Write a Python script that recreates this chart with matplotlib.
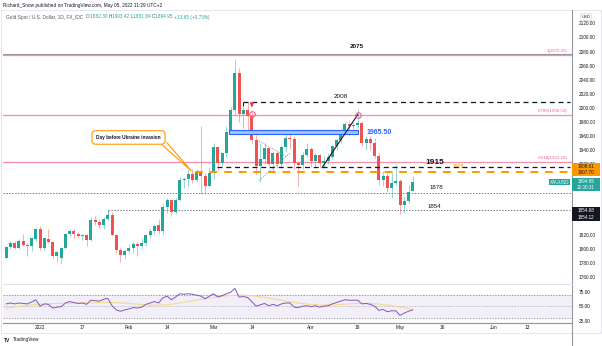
import numpy as np
import pandas as pd
import matplotlib
matplotlib.use("Agg")
import matplotlib.pyplot as plt
from matplotlib.patches import Rectangle
from matplotlib.lines import Line2D
from matplotlib.ticker import FormatStrFormatter, FuncFormatter

# XAUUSD daily candles, weekdays from 22 Dec 2021 to 5 May 2022
dates = pd.bdate_range('2021-12-22', '2022-05-05')

opens = [1788, 1803, 1809, 1802, 1812, 1806, 1805, 1814,
         1829, 1801, 1814, 1810, 1790, 1788, 1802, 1822, 1826, 1821, 1818, 1820, 1813, 1841, 1839, 1834, 1843, 1848, 1820, 1798, 1792,
         1797, 1801, 1807, 1805, 1808, 1820, 1826, 1834, 1826, 1859, 1870, 1853, 1870, 1898, 1900, 1906, 1898, 1910, 1904, 1889,
         1908, 1944, 1922, 1936, 1966, 1997, 2050, 1991, 1997, 1989, 1955, 1918, 1928, 1943, 1921, 1936, 1921, 1944, 1958, 1956, 1922, 1919, 1933,
         1942, 1925, 1933, 1922, 1925, 1931, 1946, 1954, 1966, 1977, 1974, 1976, 1979, 1950, 1956, 1951, 1932, 1898, 1904, 1886, 1894,
         1897, 1863, 1868, 1882.30]
highs = [1805, 1812, 1811, 1814, 1821, 1808, 1817, 1830,
         1832, 1816, 1829, 1812, 1798, 1803, 1823, 1828, 1829, 1824, 1822, 1822, 1845, 1847, 1842, 1845, 1855, 1852, 1822, 1802, 1800,
         1807, 1810, 1810, 1815, 1822, 1830, 1836, 1842, 1864, 1873, 1871, 1872, 1902, 1902, 1913, 1914, 1914, 1974, 1908, 1916,
         1950, 1945, 1937, 1975, 2002, 2070, 2056, 2001, 2009, 1995, 1962, 1950, 1950, 1945, 1939, 1939, 1948, 1966, 1966, 1960, 1925, 1937, 1950,
         1944, 1936, 1935, 1932, 1936, 1948, 1958, 1970, 1980, 1982, 1980, 1998, 1981, 1960, 1960, 1958, 1936, 1911, 1908, 1909, 1920,
         1899, 1874, 1891, 1903.42]
lows = [1786, 1800, 1800, 1800, 1804, 1790, 1797, 1812,
        1799, 1799, 1808, 1788, 1782, 1779, 1800, 1818, 1815, 1815, 1813, 1805, 1811, 1834, 1830, 1829, 1840, 1818, 1795, 1781, 1786,
        1793, 1795, 1790, 1800, 1805, 1815, 1822, 1822, 1821, 1851, 1848, 1850, 1868, 1887, 1890, 1893, 1895, 1878, 1879, 1888,
        1900, 1912, 1918, 1930, 1964, 1990, 1980, 1972, 1966, 1949, 1906, 1895, 1920, 1915, 1908, 1915, 1915, 1938, 1942, 1914, 1890, 1914, 1930,
        1916, 1915, 1916, 1915, 1920, 1928, 1940, 1950, 1962, 1960, 1970, 1972, 1946, 1940, 1941, 1929, 1891, 1890, 1881, 1872, 1889,
        1850, 1851, 1865, 1881.84]
closes = [1803, 1809, 1802, 1812, 1806, 1805, 1815, 1829,
          1801, 1815, 1810, 1790, 1796, 1802, 1822, 1826, 1821, 1818, 1820, 1813, 1841, 1839, 1834, 1843, 1848, 1820, 1798, 1792, 1797,
          1801, 1807, 1805, 1808, 1820, 1826, 1832, 1826, 1859, 1870, 1853, 1870, 1898, 1900, 1906, 1898, 1910, 1904, 1889, 1908,
          1944, 1922, 1936, 1966, 1997, 2050, 1991, 1997, 1989, 1955, 1918, 1928, 1943, 1921, 1936, 1921, 1944, 1958, 1956, 1922, 1919, 1933, 1942,
          1925, 1933, 1922, 1925, 1931, 1946, 1954, 1966, 1977, 1974, 1976, 1979, 1950, 1956, 1951, 1932, 1898, 1904, 1886, 1894, 1897,
          1863, 1868, 1881.30, 1894.95]

rsi = [54, 55.6, 54, 55.6, 54.8, 54, 57.2, 61.2,
       50, 54, 53.2, 46.8, 48.4, 49.2, 55.6, 58, 56.4, 54.8, 55.6, 53.2, 60.4, 59.6, 58.8, 62, 63.6, 50.8, 43.6, 41.2, 43.6,
       45.2, 47.6, 46.8, 48.4, 53.2, 55.6, 58, 55.6, 64.4, 67.6, 61.2, 66, 71.6, 70.8, 71.6, 70.8, 69.2, 67.6, 62.8, 67.6,
       71.6, 66, 68.4, 71.6, 74, 81, 66, 66.8, 65.2, 58, 50, 52.4, 54.8, 50.8, 53.2, 50.8, 54, 55.6, 55.6, 48.4, 47.6, 50, 50.8,
       49.2, 50.8, 48.4, 50, 50.8, 54, 56.4, 58.8, 61.2, 60.4, 60.4, 60.4, 54, 54.8, 53.2, 50, 42.8, 44.4, 40.4, 42, 42,
       34, 38, 41.2, 43.6]
rsi_ma = [46.5, 47.5, 48.5, 49.5, 50.5, 51.5, 52.5, 53,
          53.5, 54, 54.3, 54.5, 54.7, 54.9, 55, 55.2, 55.4, 55.6, 55.8, 56, 56, 56.2, 56.4, 56.5, 56.6, 56.5, 56.2, 55.8, 55.3,
          54.8, 54.2, 53.6, 53, 52.5, 52.2, 52, 52, 52.3, 52.8, 53.5, 54.5, 55.5, 56.8, 58, 59.3, 60.6, 61.8, 63, 64.2,
          65.3, 66.3, 67.2, 68, 68.7, 69.2, 69.3, 69.2, 68.8, 68.2, 67.3, 66.3, 65.2, 64, 62.8, 61.5, 60.3, 59, 57.8, 56.6, 55.5, 54.6, 53.8,
          53.2, 52.7, 52.4, 52.2, 52.2, 52.4, 52.7, 53.1, 53.5, 54, 54.4, 54.7, 54.9, 55, 54.8, 54.4, 53.8, 53, 52, 50.8, 49.6,
          48.3, 47, 45.7, 44.5]

tick_dates = ['2022-01-03', '2022-01-17', '2022-02-01', '2022-02-14', '2022-03-01', '2022-03-14',
              '2022-04-01', '2022-04-18', '2022-05-02', '2022-05-16', '2022-06-01', '2022-06-13']
tick_labels = ['2022', '17', 'Feb', '14', 'Mar', '14', 'Apr', '18', 'May', '16', 'Jun', '13']

fib_levels = [2075.25, 1990.53, 1923.24]
fib_names = ['1', '0.786', '0.618']
lvl_2008, lvl_1915, lvl_1908, lvl_1878, lvl_1854 = 2008, 1916.5, 1908.6, 1879.5, 1855
zone = (1962.5, 1968.6)
hidden_ticks = [1900, 1880, 1860, 1840]  # covered by the price tags

W, H = 602, 346
UP, DOWN = '#26a69a', '#ef5350'
INK = '#131722'
plt.rcParams['font.family'] = ['Liberation Sans', 'DejaVu Sans']

fig = plt.figure(figsize=(W / 100, H / 100), dpi=100)


def box(x0, y0, x1, y1):
    return [x0 / W, 1 - y1 / H, (x1 - x0) / W, (y1 - y0) / H]


def fline(x0, y0, x1, y1, **kw):
    fig.add_artist(Line2D([x0 / W, x1 / W], [1 - y0 / H, 1 - y1 / H], transform=fig.transFigure, **kw))


ax = fig.add_axes(box(3, 10, 572, 283))
ax2 = fig.add_axes(box(3, 285, 572, 322))

days = pd.bdate_range('2021-12-22', '2022-06-30')


def xi(d):
    return days.get_loc(pd.Timestamp(d))


x = np.array([xi(d) for d in dates])
o, h, l, c = map(np.array, (opens, highs, lows, closes))
col = np.where(c >= o, UP, DOWN)
X0, X1 = -0.74, 133.6

ax.vlines(x, l, h, colors=col, lw=0.6, alpha=0.55, zorder=2)
ax.bar(x, np.maximum(np.abs(c - o), 0.8), bottom=np.minimum(o, c), width=0.7, color=col, zorder=3)

# fib levels
ax.axhline(fib_levels[0] + 1.2, color='#9598a1', lw=0.8, zorder=1)
for lv, nm in zip(fib_levels, fib_names):
    ax.axhline(lv, color='#f48fb1', lw=0.9, zorder=1)
    ax.text(X1 - 1, lv + 2.5, '%s(%.2f)' % (nm, lv), color='#f06292', fontsize=3.2, ha='right', va='bottom')

xe = X1 - 0.5
ax.hlines(lvl_2008, xi('2022-03-10') - 0.1, xe, color=INK, lw=0.9, ls=(0, (4, 3)), zorder=4)
ax.vlines(xi('2022-03-10') - 0.1, lvl_2008 - 5, lvl_2008, color=INK, lw=0.7, zorder=4)
ax.hlines(lvl_1915, xi('2022-03-02') - 0.2, xe, color=INK, lw=0.9, ls=(0, (4, 3)), zorder=4)
ax.hlines(lvl_1908, xi('2022-02-23') - 0.4, xe, color='#ff9800', lw=1.4, ls=(0, (4, 3.5)), zorder=4)
ax.axhline(lvl_1878, color='#787b86', lw=0.7, ls=(0, (1.5, 1.5)), zorder=1)
ax.hlines(lvl_1854, xi('2022-01-25'), xe, color='#787b86', lw=0.7, ls=(0, (1.5, 1.5)), zorder=1)
ax.vlines(xi('2022-01-25'), 1848, lvl_1854, color='#787b86', lw=0.7, ls=(0, (1.5, 1.5)), zorder=1)

ax.text(82.9, 2087.8, '2075', fontsize=4.6, weight='bold', color=INK, ha='center', va='center')
ax.text(79.1, 2015.6, '2008', fontsize=4.6, color=INK, ha='center', va='center')
ax.text(101.3, 1922.5, '1915', fontsize=6, weight='bold', color=INK, ha='center', va='center')
ax.text(106.7, 1916.4, '1908', fontsize=3.6, color='#ff9800', ha='center', va='center')
ax.text(101.5, 1886.6, '1878', fontsize=4.4, color=INK, ha='center', va='center')
ax.text(101, 1859.7, '1854', fontsize=4.4, color=INK, ha='center', va='center')

# resistance zone
zx0, zx1 = xi('2022-03-07') - 0.4, xi('2022-04-18')
ax.add_patch(Rectangle((zx0, zone[0]), zx1 - zx0, zone[1] - zone[0], fc='#9fc3fa', ec='#2962ff', lw=0.8, zorder=5))
ax.text(zx1 + 2.1, 1965, '1965.50', fontsize=5, weight='bold', color='#2962ff', va='center')

# trend line and markers
ax.plot([xi('2022-04-06') - 0.4, xi('2022-04-18')], [1915.5, 1990.5], color=INK, lw=0.8, zorder=6)
ax.plot([xi('2022-04-18'), xi('2022-03-14')], [1990.5, 1992], 'o', ms=4, mfc='none', mec='#f06292', mew=0.8, zorder=7)
ax.annotate('', xy=(xi('2022-03-14'), 1997), xytext=(xi('2022-03-14'), 2009),
            arrowprops=dict(arrowstyle='-|>', color='#f23645', lw=1, mutation_scale=5), zorder=7)
ax.plot([xi('2022-03-16') - 0.3, xi('2022-03-24') + 0.3], [1953, 1931], color='#9598a1', lw=0.6, ls=(0, (1.5, 1.5)), zorder=4)
ax.plot([xi('2022-03-16') - 0.3, xi('2022-03-25')], [1897, 1936], color='#9598a1', lw=0.6, ls=(0, (1.5, 1.5)), zorder=4)

# callout
tip = (xi('2022-02-22') - 0.3, 1911)
ax.plot([36.3, tip[0], 38.0], [1950.5, tip[1], 1950.5], color='#ff9800', lw=0.8, zorder=6)
ax.text(28.9, 1958.2, 'Day before Ukraine invasion', fontsize=3.4, weight='bold', color=INK, ha='center', va='center',
        zorder=7, bbox=dict(boxstyle='round,pad=0.9,rounding_size=0.8', fc='white', ec='#ff9800', lw=0.8))

ax.set_xlim(X0, X1)
ax.set_ylim(1751.9, 2138.9)
ax.yaxis.tick_right()
ax.set_yticks(np.arange(1760, 2121, 20))
ax.yaxis.set_major_formatter(FuncFormatter(lambda v, p: '' if round(v) in hidden_ticks else '%.2f' % v))
ax.tick_params(axis='y', length=0, pad=5, labelsize=3.4, labelcolor=INK)
ax.tick_params(axis='x', bottom=False, labelbottom=False)
for s in ax.spines.values():
    s.set_visible(False)

# RSI pane
ax2.fill_between([X0, X1], 30, 70, color='#7e57c2', alpha=0.09, lw=0)
for lv, a in ((70, 1), (50, 0.6), (30, 1)):
    ax2.axhline(lv, color='#787b86', lw=0.5, ls=(0, (2, 2)), alpha=a)
ax2.plot(x, rsi_ma, color='#f5d98e', lw=0.8)
ax2.plot(x, rsi, color='#7e57c2', lw=0.7)
ax2.set_xlim(X0, X1)
ax2.set_ylim(22.5, 86.9)
ax2.yaxis.tick_right()
ax2.set_yticks([25, 50, 75])
ax2.yaxis.set_major_formatter(FormatStrFormatter('%.2f'))
ax2.set_xticks([xi(d) for d in tick_dates])
ax2.set_xticklabels(tick_labels)
ax2.tick_params(axis='y', length=0, pad=5, labelsize=3.4, labelcolor=INK)
ax2.tick_params(axis='x', length=0, pad=2, labelsize=3.4, labelcolor=INK)
for s in ax2.spines.values():
    s.set_visible(False)

# frame and separators
fig.add_artist(Rectangle((1 / W, 1 - 333 / H), 600 / W, 323 / H, transform=fig.transFigure,
                         fc='none', ec='#e0e3eb', lw=0.6))
fline(572, 10, 572, 346, color='#9598a1', lw=0.8)
fline(3, 284, 572, 284, color='#e0e3eb', lw=0.8)
fline(3, 322.5, 572, 322.5, color='#9598a1', lw=0.9)

# header and legend
fig.text(3 / W, 1 - 5 / H, 'Richard_Snow published on TradingView.com, May 05, 2022 11:29 UTC+2',
         fontsize=3.4, color=INK, va='center')
rend = fig.canvas.get_renderer()
chg = closes[-1] - closes[-2]
parts = [('Gold Spot / U.S. Dollar, 1D, FX_IDC  ', '#50535e')]
for k, v in zip('OHLC', (opens[-1], highs[-1], lows[-1], closes[-1])):
    parts += [(k, '#50535e'), ('%.2f ' % v, UP)]
parts += [('%+.2f (%+.2f%%)' % (chg, 100 * chg / closes[-2]), UP)]
px = 6
for s, cc in parts:
    t = fig.text(px / W, 1 - 17 / H, s, fontsize=3.4, color=cc, va='center')
    px += t.get_window_extent(rend).width

fig.text(586 / W, 1 - 17 / H, 'USD', fontsize=3, color=INK, ha='center', va='center',
         bbox=dict(boxstyle='round,pad=0.3', fc='white', ec='#d1d4dc', lw=0.5))


# price tags on the axis
def tag(y0, y1, lines, fc, tc='white', x0=572, x1=600):
    fig.add_artist(Rectangle((x0 / W, 1 - y1 / H), (x1 - x0) / W, (y1 - y0) / H, transform=fig.transFigure,
                             fc=fc, ec='none', zorder=5))
    step = (y1 - y0) / len(lines)
    for i, s in enumerate(lines):
        fig.text((x0 + x1) / 2 / W, 1 - (y0 + step * (i + 0.5)) / H, s, fontsize=3.3, color=tc,
                 ha='center', va='center', zorder=6)


tag(163, 176, ['1908.61', '1907.70'], '#ff9800', INK)
tag(178, 191, ['%.2f' % closes[-1], '12:30:31'], UP)
tag(179, 185, ['XAUUSD'], UP, x0=549, x1=570)
tag(207, 221, ['1854.68', '1854.12'], INK)

fig.text(4 / W, 1 - 340 / H, 'TV', fontsize=3.6, weight='bold', color=INK, va='center')
fig.text(13 / W, 1 - 340 / H, 'TradingView', fontsize=3.4, color=INK, va='center')

fig.savefig('out.png', dpi=100)
